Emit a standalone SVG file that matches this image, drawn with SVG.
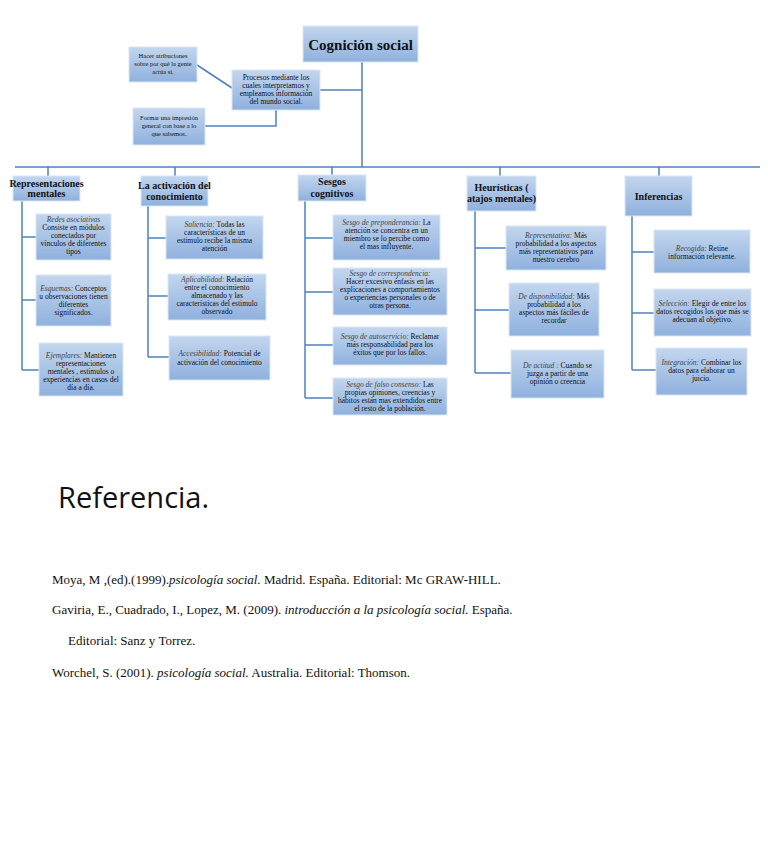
<svg xmlns="http://www.w3.org/2000/svg" width="768" height="866" viewBox="0 0 768 866">
<defs>
<linearGradient id="g" x1="0" y1="0" x2="0" y2="1"><stop offset="0" stop-color="#c3d6ee"/><stop offset="1" stop-color="#8fb1de"/></linearGradient>
<style>
rect{fill:url(#g);stroke:#dbe6f4;stroke-width:1}
.c{fill:none;stroke:#4f81bd;stroke-width:1.5}
text{font-family:"Liberation Serif",serif;fill:#111;text-anchor:middle}
.s{font-size:7.5px}
.h{font-size:10px;font-weight:bold}
.i{font-style:italic;fill:#444}
.r{font-size:13px;text-anchor:start}
</style>
</defs>
<rect width="768" height="866" fill="#fff" style="fill:#fff;stroke:none"/>
<g id="connectors" class="c">
<path d="M362 62V167M15 167H760M48 167V176M175 167V176M332 167V175M500 167V176M659 167V176"/>
<path d="M320 90H362M197 65L232 88M205 126H276V110"/>
<path d="M22 201V370M22 237H36M22 300H36M22 370H39"/>
<path d="M148 206V357M148 238H166M148 296H168M148 357H169"/>
<path d="M305 201V398M305 238H333M305 292H333M305 345H333M305 398H333"/>
<path d="M475 211V373M475 248H506M475 310H509M475 373H511"/>
<path d="M632 216V370M632 252H654M632 313H654M632 370H656"/>
</g>
<g id="root"><rect x="303" y="26" width="115" height="36"/><text x="360.5" y="50" style="font-size:15px;font-weight:bold">Cognición social</text></g>
<g id="procesos"><rect x="232" y="70" width="88" height="40"/><text class="s" x="276" y="80">Procesos mediante los</text><text class="s" x="276" y="88">cuales interpretamos y</text><text class="s" x="276" y="96">empleamos información</text><text class="s" x="276" y="104">del mundo social.</text></g>
<g id="hacer"><rect x="129" y="47" width="68" height="35"/><text class="s" x="163" y="58" style="font-size:6.5px">Hacer atribuciones</text><text class="s" x="163" y="66" style="font-size:6.5px">sobre por qué la gente</text><text class="s" x="163" y="74" style="font-size:6.5px">actúa sí.</text></g>
<g id="formar"><rect x="133" y="108" width="72" height="37"/><text class="s" x="169" y="120" style="font-size:6.5px">Formar una impresión</text><text class="s" x="169" y="128" style="font-size:6.5px">general con base a lo</text><text class="s" x="169" y="136" style="font-size:6.5px">que sabemos.</text></g>

<g id="rep"><rect x="13" y="176" width="67" height="25"/><text class="h" x="46.5" y="187">Representaciones</text><text class="h" x="46.5" y="197">mentales</text></g>
<g id="act"><rect x="141" y="176" width="67" height="30"/><text class="h" x="174.5" y="189">La activación del</text><text class="h" x="174.5" y="200">conocimiento</text></g>
<g id="ses"><rect x="298" y="175" width="68" height="26"/><text class="h" x="332" y="185">Sesgos</text><text class="h" x="332" y="197">cognitivos</text></g>
<g id="heu"><rect x="467" y="176" width="69" height="35"/><text class="h" x="501.5" y="191">Heurísticas (</text><text class="h" x="501.5" y="202">atajos mentales)</text></g>
<g id="inf"><rect x="625" y="176" width="67" height="40"/><text class="h" x="658.5" y="200">Inferencias</text></g>

<g id="redes"><rect x="36" y="214" width="75" height="46"/><text class="s" x="73.5" y="222"><tspan class="i">Redes asociativas</tspan></text><text class="s" x="73.5" y="230">Consiste en módulos</text><text class="s" x="73.5" y="238">conectados por</text><text class="s" x="73.5" y="246">vínculos de diferentes</text><text class="s" x="73.5" y="254">tipos</text></g>
<g id="esq"><rect x="36" y="275" width="75" height="51"/><text class="s" x="73.5" y="291"><tspan class="i">Esquemas:</tspan> Conceptos</text><text class="s" x="73.5" y="299">u observaciones tienen</text><text class="s" x="73.5" y="307">diferentes</text><text class="s" x="73.5" y="315">significados.</text></g>
<g id="ejem"><rect x="39" y="343" width="84" height="53"/><text class="s" x="81" y="358"><tspan class="i">Ejemplares:</tspan> Mantienen</text><text class="s" x="81" y="366">representaciones</text><text class="s" x="81" y="374">mentales , estimulos o</text><text class="s" x="81" y="382">experiencias en casos del</text><text class="s" x="81" y="390">día a día.</text></g>

<g id="sal"><rect x="166" y="216" width="97" height="43"/><text class="s" x="214.5" y="227"><tspan class="i">Saliencia:</tspan> Todas las</text><text class="s" x="214.5" y="235">características de un</text><text class="s" x="214.5" y="243">estimulo recibe la misma</text><text class="s" x="214.5" y="251">atención</text></g>
<g id="apl"><rect x="168" y="274" width="98" height="46"/><text class="s" x="217" y="282"><tspan class="i">Aplicabilidad:</tspan> Relación</text><text class="s" x="217" y="290">entre el conocimiento</text><text class="s" x="217" y="298">almacenado y las</text><text class="s" x="217" y="306">características del estimulo</text><text class="s" x="217" y="314">observado</text></g>
<g id="acc"><rect x="169" y="336" width="101" height="44"/><text class="s" x="219.5" y="356"><tspan class="i">Accesibilidad:</tspan> Potencial de</text><text class="s" x="219.5" y="365">activación del conocimiento</text></g>

<g id="pre"><rect x="333" y="215" width="107" height="45"/><text class="s" x="386.5" y="225"><tspan class="i">Sesgo de preponderancia:</tspan> La</text><text class="s" x="386.5" y="233">atención se concentra en un</text><text class="s" x="386.5" y="241">miembro se lo percibe como</text><text class="s" x="386.5" y="249">el mas influyente.</text></g>
<g id="cor"><rect x="333" y="268" width="114" height="47"/><text class="s" x="390" y="276"><tspan class="i">Sesgo de correspondencia:</tspan></text><text class="s" x="390" y="284">Hacer excesivo énfasis en las</text><text class="s" x="390" y="292">explicaciones a comportamientos</text><text class="s" x="390" y="300">o experiencias personales o de</text><text class="s" x="390" y="308">otras persona.</text></g>
<g id="aut"><rect x="333" y="327" width="114" height="38"/><text class="s" x="390" y="339"><tspan class="i">Sesgo de autoservicio:</tspan> Reclamar</text><text class="s" x="390" y="347">más responsabilidad para los</text><text class="s" x="390" y="355">éxitos que por los fallos.</text></g>
<g id="fal"><rect x="333" y="378" width="114" height="37"/><text class="s" x="390" y="387"><tspan class="i">Sesgo de falso consenso:</tspan> Las</text><text class="s" x="390" y="395">propias opiniones, creencias y</text><text class="s" x="390" y="403">hábitos están mas extendidos entre</text><text class="s" x="390" y="411">el resto de la población.</text></g>

<g id="repr"><rect x="506" y="226" width="100" height="44"/><text class="s" x="556" y="238"><tspan class="i">Representativa:</tspan> Más</text><text class="s" x="556" y="246">probabilidad a los aspectos</text><text class="s" x="556" y="254">más representativos para</text><text class="s" x="556" y="262">nuestro cerebro</text></g>
<g id="disp"><rect x="509" y="283" width="90" height="53"/><text class="s" x="554" y="299"><tspan class="i">De disponibilidad:</tspan> Más</text><text class="s" x="554" y="307">probabilidad  a los</text><text class="s" x="554" y="315">aspectos más fáciles de</text><text class="s" x="554" y="323">recordar</text></g>
<g id="acti"><rect x="511" y="350" width="93" height="48"/><text class="s" x="557.5" y="368"><tspan class="i">De actitud :</tspan> Cuando se</text><text class="s" x="557.5" y="376">juzga a partir de una</text><text class="s" x="557.5" y="384">opinión o creencia</text></g>

<g id="reco"><rect x="654" y="230" width="96" height="43"/><text class="s" x="702" y="251"><tspan class="i">Recogida:</tspan> Retine</text><text class="s" x="702" y="259">información relevante.</text></g>
<g id="sel"><rect x="654" y="289" width="97" height="47"/><text class="s" x="702.5" y="306"><tspan class="i">Selección:</tspan> Elegir de entre los</text><text class="s" x="702.5" y="314">datos recogidos los que más se</text><text class="s" x="702.5" y="322">adecuan al objetivo.</text></g>
<g id="int"><rect x="656" y="348" width="91" height="47"/><text class="s" x="701.5" y="365"><tspan class="i">Integración:</tspan> Combinar los</text><text class="s" x="701.5" y="373">datos para elaborar un</text><text class="s" x="701.5" y="381">juicio.</text></g>

<text x="58" y="508" style="font-family:'Open Sans',sans-serif;font-size:29px;text-anchor:start;fill:#111">Referencia.</text>
<text class="r" x="52" y="584">Moya, M ,(ed).(1999).<tspan font-style="italic">psicología social.</tspan> Madrid. España. Editorial:  Mc GRAW-HILL.</text>
<text class="r" x="52" y="614">Gaviria,  E., Cuadrado, I., Lopez, M. (2009). <tspan font-style="italic">introducción a la psicología social.</tspan> España.</text>
<text class="r" x="68" y="645">Editorial:  Sanz  y Torrez.</text>
<text class="r" x="52" y="677">Worchel, S. (2001). <tspan font-style="italic">psicología social.</tspan> Australia.  Editorial:  Thomson.</text>
</svg>
